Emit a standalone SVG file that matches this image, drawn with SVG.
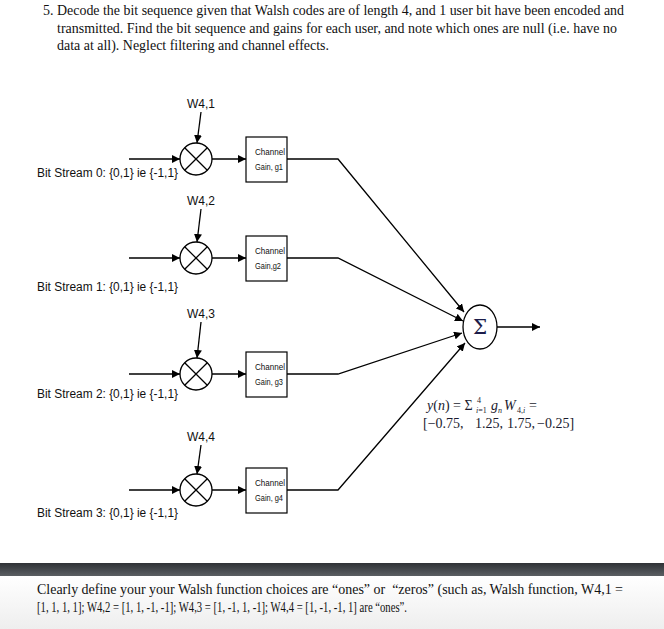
<svg xmlns="http://www.w3.org/2000/svg" width="664" height="629" viewBox="0 0 664 629">
<defs>
<marker id="ah" viewBox="0 0 10 10" refX="10" refY="5" markerWidth="8" markerHeight="8" markerUnits="userSpaceOnUse" orient="auto">
<path d="M0,0 L10,5 L0,10 z" fill="#000"/>
</marker>
<linearGradient id="band" x1="0" y1="0" x2="0" y2="1">
<stop offset="0" stop-color="#2f3236"/>
<stop offset="1" stop-color="#5b5f63"/>
</linearGradient>
<linearGradient id="foot" x1="0" y1="0" x2="0" y2="1">
<stop offset="0" stop-color="#ffffff"/>
<stop offset="1" stop-color="#eeeeee"/>
</linearGradient>
</defs>
<style>
.hdr{font-family:"Liberation Serif","Times New Roman",serif;font-size:14px;fill:#111}
.lbl{font-family:"Liberation Sans",Arial,sans-serif;font-size:12px;fill:#111}
.box{font-family:"Liberation Sans",Arial,sans-serif;font-size:9px;fill:#111}
.ln{stroke:#000;stroke-width:1.3;fill:none}
.arr{stroke:#000;stroke-width:1.3;fill:none;marker-end:url(#ah)}
.mx{fill:#fff;stroke:#000;stroke-width:1.3}
.math{font-family:"Liberation Serif","DejaVu Serif",serif;font-size:14px;fill:#1a1a2e}
.ms{font-family:"Liberation Serif","DejaVu Serif",serif;font-size:8px;fill:#1a1a2e}
.it{font-style:italic}
</style>
<rect width="664" height="629" fill="#fff"/>

<g id="header">
<text class="hdr" x="43" y="15">5.</text>
<text class="hdr" x="57" y="15" textLength="567" lengthAdjust="spacingAndGlyphs">Decode the bit sequence given that Walsh codes are of length 4, and 1 user bit have been encoded and</text>
<text class="hdr" x="57" y="33" textLength="560" lengthAdjust="spacingAndGlyphs">transmitted. Find the bit sequence and gains for each user, and note which ones are null (i.e. have no</text>
<text class="hdr" x="57" y="50" textLength="272" lengthAdjust="spacingAndGlyphs">data at all). Neglect filtering and channel effects.</text>
</g>

<g id="connectors">
<line class="arr" x1="129" y1="159" x2="180" y2="159"/>
<line class="arr" x1="129" y1="258" x2="180" y2="258"/>
<line class="arr" x1="129" y1="374" x2="180" y2="374"/>
<line class="arr" x1="129" y1="490" x2="180" y2="490"/>
<line class="arr" x1="201" y1="112" x2="197" y2="143"/>
<line class="arr" x1="201" y1="209" x2="197" y2="242"/>
<line class="arr" x1="201" y1="322" x2="197" y2="358"/>
<line class="arr" x1="201" y1="445" x2="197" y2="474"/>
<line class="arr" x1="212" y1="159" x2="246" y2="159"/>
<line class="arr" x1="212" y1="258" x2="246" y2="258"/>
<line class="arr" x1="212" y1="374" x2="246" y2="374"/>
<line class="arr" x1="212" y1="490" x2="246" y2="490"/>
<polyline class="arr" points="287,159 338,159 464,312"/>
<polyline class="arr" points="287,258 338,258 463,321"/>
<polyline class="arr" points="287,374 338,374 462,333"/>
<polyline class="arr" points="287,490 338,490 465,343"/>
<line class="arr" x1="497" y1="327" x2="540" y2="327"/>
</g>

<g id="w41"><text class="lbl" x="201" y="108" text-anchor="middle">W4,1</text></g>
<g id="w42"><text class="lbl" x="201" y="205" text-anchor="middle">W4,2</text></g>
<g id="w43"><text class="lbl" x="201" y="318" text-anchor="middle">W4,3</text></g>
<g id="w44"><text class="lbl" x="201" y="441" text-anchor="middle">W4,4</text></g>

<g id="bs0"><text class="lbl" x="37" y="177" textLength="141" lengthAdjust="spacingAndGlyphs">Bit Stream 0: {0,1} ie {-1,1}</text></g>
<g id="bs1"><text class="lbl" x="37" y="291" textLength="141" lengthAdjust="spacingAndGlyphs">Bit Stream 1: {0,1} ie {-1,1}</text></g>
<g id="bs2"><text class="lbl" x="37" y="398" textLength="141" lengthAdjust="spacingAndGlyphs">Bit Stream 2: {0,1} ie {-1,1}</text></g>
<g id="bs3"><text class="lbl" x="37" y="517" textLength="141" lengthAdjust="spacingAndGlyphs">Bit Stream 3: {0,1} ie {-1,1}</text></g>

<g id="mult1"><circle class="mx" cx="196" cy="159" r="16"/><path class="ln" d="M184.7,147.7 L207.3,170.3 M207.3,147.7 L184.7,170.3"/></g>
<g id="mult2"><circle class="mx" cx="196" cy="258" r="16"/><path class="ln" d="M184.7,246.7 L207.3,269.3 M207.3,246.7 L184.7,269.3"/></g>
<g id="mult3"><circle class="mx" cx="196" cy="374" r="16"/><path class="ln" d="M184.7,362.7 L207.3,385.3 M207.3,362.7 L184.7,385.3"/></g>
<g id="mult4"><circle class="mx" cx="196" cy="490" r="16"/><path class="ln" d="M184.7,478.7 L207.3,501.3 M207.3,478.7 L184.7,501.3"/></g>

<g id="gain1"><rect x="246" y="137" width="41" height="45" fill="#fff" stroke="#000" stroke-width="1.2"/><text class="box" x="255" y="155" textLength="30" lengthAdjust="spacingAndGlyphs">Channel</text><text class="box" x="255" y="170" textLength="28" lengthAdjust="spacingAndGlyphs">Gain, g1</text></g>
<g id="gain2"><rect x="246" y="236" width="41" height="45" fill="#fff" stroke="#000" stroke-width="1.2"/><text class="box" x="255" y="254" textLength="30" lengthAdjust="spacingAndGlyphs">Channel</text><text class="box" x="255" y="269" textLength="26" lengthAdjust="spacingAndGlyphs">Gain,g2</text></g>
<g id="gain3"><rect x="246" y="352" width="41" height="45" fill="#fff" stroke="#000" stroke-width="1.2"/><text class="box" x="255" y="370" textLength="30" lengthAdjust="spacingAndGlyphs">Channel</text><text class="box" x="255" y="385" textLength="28" lengthAdjust="spacingAndGlyphs">Gain, g3</text></g>
<g id="gain4"><rect x="246" y="468" width="41" height="45" fill="#fff" stroke="#000" stroke-width="1.2"/><text class="box" x="255" y="486" textLength="30" lengthAdjust="spacingAndGlyphs">Channel</text><text class="box" x="255" y="501" textLength="28" lengthAdjust="spacingAndGlyphs">Gain, g4</text></g>

<g id="sum">
<ellipse cx="480" cy="327" rx="17" ry="22" fill="#fff" stroke="#000" stroke-width="1.3"/>
<text x="480" y="334" text-anchor="middle" font-family="DejaVu Serif,serif" font-size="20" fill="#1c1c4a">Σ</text>
</g>

<g id="formula">
<text class="math" x="427" y="410"><tspan class="it">y</tspan>(<tspan class="it">n</tspan>) = Σ</text>
<text class="ms" x="477" y="403">4</text>
<text class="ms" x="476" y="413"><tspan class="it">i</tspan>=1</text>
<text class="math it" x="491" y="410">g</text>
<text class="ms it" x="498" y="413">n</text>
<text class="math it" x="504" y="410">W</text>
<text class="ms" x="517" y="413">4,<tspan class="it">i</tspan></text>
<text class="math" x="529" y="410">=</text>
<text class="math" y="428"><tspan x="423">[−0.75,</tspan><tspan x="475">1.25,</tspan><tspan x="507">1.75,</tspan><tspan x="537">−0.25]</tspan></text>
</g>

<g id="footer">
<rect x="0" y="576" width="664" height="53" fill="url(#foot)"/>
<rect x="0" y="563" width="664" height="13" fill="url(#band)"/>
<text class="hdr" x="37" y="594" textLength="586" lengthAdjust="spacingAndGlyphs" xml:space="preserve">Clearly define your your Walsh function choices are “ones” or  “zeros” (such as, Walsh function, W4,1 =</text>
<text class="hdr" x="37" y="612" textLength="370" lengthAdjust="spacingAndGlyphs">[1, 1, 1, 1]; W4,2 = [1, 1, -1, -1]; W4,3 = [1, -1, 1, -1]; W4,4 = [1, -1, -1, 1] are “ones”.</text>
</g>
</svg>
